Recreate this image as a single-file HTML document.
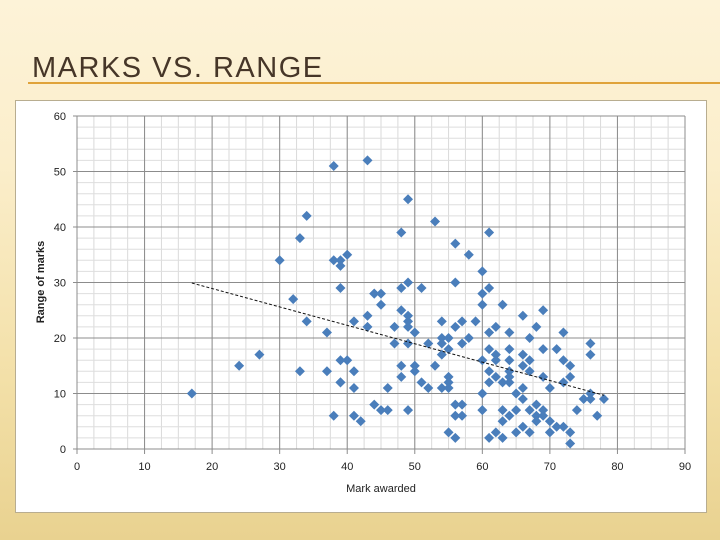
<!DOCTYPE html>
<html><head><meta charset="utf-8">
<style>
html,body{margin:0;padding:0;}
body{width:720px;height:540px;overflow:hidden;position:relative;font-family:"Liberation Sans",sans-serif;
background:linear-gradient(180deg,#fdf3d8 0%,#fbeecb 30%,#f3e0a8 70%,#e9d290 100%);}
#title{position:absolute;left:32px;top:52px;font-size:29px;color:#463628;letter-spacing:1.5px;}
#rule{position:absolute;left:28px;top:82px;width:692px;height:2px;background:#e0a33a;}
#box{position:absolute;left:15px;top:100px;width:690px;height:411px;background:#fff;border:1px solid #b8ad90;}
svg{position:absolute;left:0;top:0;}
</style></head>
<body>
<div id="title">MARKS VS. RANGE</div>
<div id="rule"></div>
<div id="box"></div>
<svg id="chart" width="720" height="540"></svg>
<script>
const xTicks=[0,10,20,30,40,50,60,70,80,90];
const yTicks=[0,10,20,30,40,50,60];
const marks=[17,24,27,30,32,33,33,34,34,37,37,38,38,39,39,39,39,39,40,40,41,41,41,41,42,43,43,43,44,
49,53,48,61,56,58,60,56,48,49,51,60,61,44,45,45,60,63,69,48,66,49,49,49,54,57,56,59,47,62,68,50,61,64,72,
54,55,54,58,57,67,47,49,52,76,55,54,61,62,62,64,69,71,60,64,66,67,66,67,72,73,76,48,48,50,50,53,
61,62,63,64,64,61,64,69,73,72,55,55,54,55,51,52,46,65,66,66,60,70,75,76,76,78,44,45,46,49,56,57,56,57,60,
63,64,63,65,67,68,69,68,68,69,70,71,70,72,74,73,73,77,55,56,61,62,63,65,66,67,38,39];
const ranges=[10,15,17,34,27,38,14,42,23,21,14,51,34,34,33,29,16,12,35,16,23,14,11,6,5,24,22,52,28,
45,41,39,39,37,35,32,30,29,30,29,28,29,28,28,26,26,26,25,25,24,24,23,22,23,23,22,23,22,22,22,21,21,21,21,
20,20,19,20,19,20,19,19,19,19,18,17,18,17,16,18,18,18,16,16,17,16,15,14,16,15,17,15,13,15,14,15,
14,13,12,12,14,12,13,13,13,12,13,12,11,11,12,11,11,10,11,9,10,11,9,10,9,9,8,7,7,7,8,8,6,6,7,
7,6,5,7,7,8,7,6,5,6,5,4,3,4,7,3,1,6,3,2,2,3,2,3,4,3,6,12];
const svg=document.getElementById('chart');
const NS='http://www.w3.org/2000/svg';
const X0=77,X1=685,Y0=449,Y1=116,XMAX=90,YMAX=60;
const sx=v=>X0+(X1-X0)*v/XMAX;
const sy=v=>Y0-(Y0-Y1)*v/YMAX;
function mk(t,a){const e=document.createElementNS(NS,t);for(const k in a)e.setAttribute(k,a[k]);svg.appendChild(e);return e;}
for(let v=0;v<=XMAX;v+=2.5){let l=mk('line',{x1:sx(v),x2:sx(v),y1:Y1,y2:Y0,stroke:'#dadada','stroke-width':1});

}
for(let v=0;v<=YMAX;v+=2){let l=mk('line',{x1:X0,x2:X1,y1:sy(v),y2:sy(v),stroke:'#dedede','stroke-width':1});

}
xTicks.forEach(v=>{let l=mk('line',{x1:sx(v),x2:sx(v),y1:Y1,y2:Y0+5,stroke:'#8c8c8c','stroke-width':1});


let t=mk('text',{x:sx(v),y:Y0+21,'text-anchor':'middle','font-size':11,fill:'#222'});t.textContent=v;

});
yTicks.forEach(v=>{let l=mk('line',{x1:X0-4,x2:X1,y1:sy(v),y2:sy(v),stroke:'#8c8c8c','stroke-width':1});


let t=mk('text',{x:X0-11,y:sy(v)+4,'text-anchor':'end','font-size':11,fill:'#222'});t.textContent=v;

});
marks.forEach((m,i)=>{const cx=sx(m),cy=sy(ranges[i]);
let p=mk('polygon',{points:`${cx},${cy-5} ${cx+5},${cy} ${cx},${cy+5} ${cx-5},${cy}`,fill:'#4a7ebb'});

});
const n=marks.length;let mx=0,my=0;marks.forEach((m,i)=>{mx+=m;my+=ranges[i];});mx/=n;my/=n;
let sxy=0,sxx=0;marks.forEach((m,i)=>{sxy+=(m-mx)*(ranges[i]-my);sxx+=(m-mx)*(m-mx);});
const b=sxy/sxx,a=my-b*mx;const xa=Math.min(...marks),xb=Math.max(...marks);
let tl=mk('line',{x1:sx(xa),y1:sy(a+b*xa),x2:sx(xb),y2:sy(a+b*xb),stroke:'#111','stroke-width':1,'stroke-dasharray':'3,2'});


let xt=mk('text',{x:381,y:492,'text-anchor':'middle','font-size':11,fill:'#222'});xt.textContent='Mark awarded';


let yt=mk('text',{x:0,y:0,'text-anchor':'middle','font-size':11,'font-weight':'bold',fill:'#222',transform:'translate(44,282) rotate(-90)'});yt.textContent='Range of marks';


</script>
</body></html>
